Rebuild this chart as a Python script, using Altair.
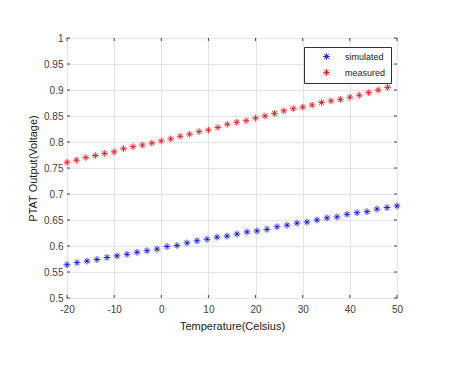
import altair as alt
import pandas as pd

# Temperatures (Celsius) and PTAT outputs (Voltage)
sim_temp = [-20, -17.88, -15.76, -13.64, -11.52, -9.39, -7.27, -5.15, -3.03, -0.91,
            1.21, 3.33, 5.45, 7.58, 9.70, 11.82, 13.94, 16.06, 18.18, 20.30,
            22.42, 24.55, 26.67, 28.79, 30.91, 33.03, 35.15, 37.27, 39.39, 41.52,
            43.64, 45.76, 47.88, 50]
sim_volt = [0.564, 0.568, 0.571, 0.574, 0.578, 0.581, 0.584, 0.588, 0.591, 0.594,
            0.599, 0.601, 0.606, 0.610, 0.613, 0.617, 0.619, 0.623, 0.627, 0.629,
            0.632, 0.637, 0.640, 0.644, 0.646, 0.650, 0.654, 0.656, 0.661, 0.664,
            0.666, 0.671, 0.674, 0.677]
meas_temp = [-20, -18, -16, -14, -12, -10, -8, -6, -4, -2, 0, 2, 4, 6, 8, 10, 12, 14,
             16, 18, 20, 22, 24, 26, 28, 30, 32, 34, 36, 38, 40, 42, 44, 46, 48]
meas_volt = [0.761, 0.765, 0.770, 0.774, 0.778, 0.781, 0.787, 0.791, 0.794, 0.798,
             0.802, 0.806, 0.811, 0.815, 0.820, 0.823, 0.828, 0.834, 0.838, 0.841,
             0.846, 0.850, 0.855, 0.860, 0.864, 0.867, 0.871, 0.876, 0.879, 0.882,
             0.886, 0.890, 0.895, 0.900, 0.905]
series = ["simulated", "measured"]
colors = ["#1010e0", "#e0181f"]
x_ticks = [-20, -10, 0, 10, 20, 30, 40, 50]
y_ticks = [0.5, 0.55, 0.6, 0.65, 0.7, 0.75, 0.8, 0.85, 0.9, 0.95, 1]

df = pd.concat([
    pd.DataFrame({"t": sim_temp, "v": sim_volt, "s": series[0]}),
    pd.DataFrame({"t": meas_temp, "v": meas_volt, "s": series[1]}),
])
xt = pd.DataFrame({"t": x_ticks})
yt = pd.DataFrame({"v": y_ticks})

W, H = 330, 260
STAR = "M-1,0L1,0M0,-1L0,1M-0.7,-0.7L0.7,0.7M-0.7,0.7L0.7,-0.7"
FONT = "Liberation Sans"
AX = "#404040"

xscale = alt.Scale(domain=[-20, 50], nice=False, zero=False)
yscale = alt.Scale(domain=[0.5, 1], nice=False, zero=False)
xaxis = alt.Axis(values=x_ticks, labelExpr="datum.value + ''", grid=True,
                 gridColor="#e4e4e4", tickSize=0, domain=False,
                 labelFlush=False, labelOverlap=False, labelBound=False,
                 labelPadding=6, titlePadding=6)
yaxis = alt.Axis(values=y_ticks, labelExpr="datum.value + ''", grid=True,
                 gridColor="#e4e4e4", tickSize=0, domain=False,
                 labelFlush=False, labelOverlap=False, labelBound=False,
                 labelPadding=4, titlePadding=5)
XT = "Temperature(Celsius)"
YT = "PTAT Output(Voltage)"

points = alt.Chart(df).mark_point(shape=STAR, filled=False, size=46, strokeWidth=0.9, opacity=1).encode(
    x=alt.X("t:Q", scale=xscale, title=XT, axis=xaxis),
    y=alt.Y("v:Q", scale=yscale, title=YT, axis=yaxis),
    color=alt.Color("s:N", scale=alt.Scale(domain=series, range=colors),
                    legend=alt.Legend(title=None, orient="none", legendX=237, legendY=9,
                                      symbolType=STAR, symbolSize=46, symbolStrokeWidth=0.9,
                                      symbolOffset=13, labelOffset=14, padding=5,
                                      rowPadding=5, strokeColor="#303030", fillColor="white",
                                      labelFont=FONT, labelFontSize=9, labelColor="#202020")),
)

bt = alt.Chart(xt).mark_rule(color=AX, strokeWidth=1).encode(
    x=alt.X("t:Q", scale=xscale, title=XT, axis=xaxis), y=alt.value(H), y2=alt.value(H - 3))
tt = alt.Chart(xt).mark_rule(color=AX, strokeWidth=1).encode(
    x=alt.X("t:Q", scale=xscale, title=XT, axis=xaxis), y=alt.value(0), y2=alt.value(3))
lt = alt.Chart(yt).mark_rule(color=AX, strokeWidth=1).encode(
    y=alt.Y("v:Q", scale=yscale, title=YT, axis=yaxis), x=alt.value(0), x2=alt.value(3))
rt = alt.Chart(yt).mark_rule(color=AX, strokeWidth=1).encode(
    y=alt.Y("v:Q", scale=yscale, title=YT, axis=yaxis), x=alt.value(W), x2=alt.value(W - 3))

chart = alt.layer(points, bt, tt, lt, rt).properties(
    width=W, height=H,
    autosize=alt.AutoSizeParams(type="none"),
    padding={"left": 59, "top": 30, "right": 54, "bottom": 59},
    background="white",
).configure_view(stroke=AX, strokeWidth=1).configure_axis(
    labelFont=FONT, labelFontSize=10, labelColor="#404040",
    titleFont=FONT, titleFontSize=11, titleColor="#202020", titleFontWeight="normal",
)

chart.save("out.html", embed_options={"renderer": "svg", "actions": False})
